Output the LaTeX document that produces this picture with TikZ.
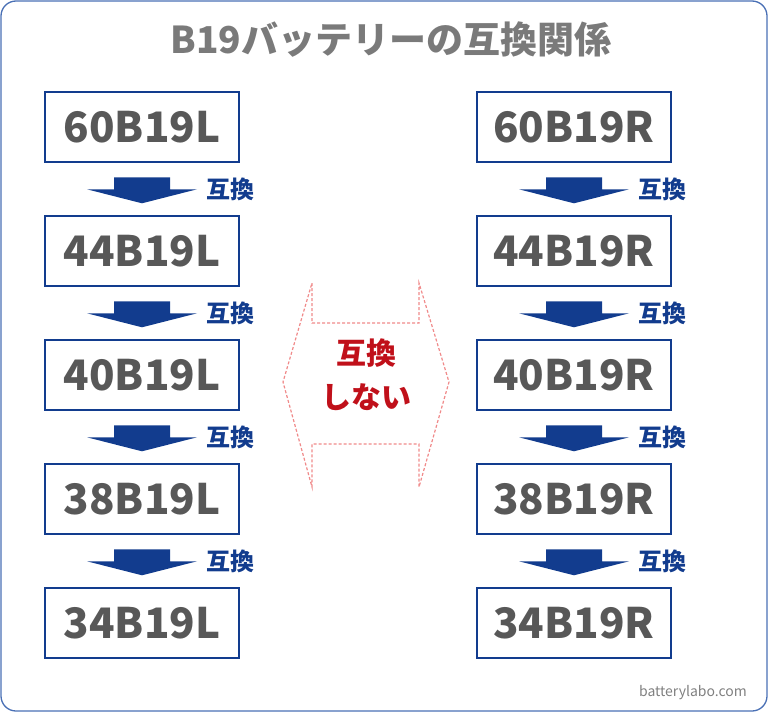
\documentclass[tikz,border=0pt]{standalone}
\usepackage{fontspec}
\setmainfont{Noto Sans CJK JP}
\usetikzlibrary{calc}
\definecolor{frameblue}{HTML}{4A70B5}
\definecolor{navy}{HTML}{123C8E}
\definecolor{boxtext}{HTML}{585858}
\definecolor{titlegray}{HTML}{7A7A7A}
\definecolor{darkred}{HTML}{C0101A}
\definecolor{lightred}{HTML}{F08A8A}
\tikzset{
  batbox/.style={draw=navy, line width=2.6pt, minimum width=194pt, minimum height=70pt, inner sep=0pt,
    text=boxtext, font=\fontsize{42}{48}\selectfont\bfseries},
  blockarrow/.style={fill=navy, draw=none},
  xlabel/.style={text=navy, font=\fontsize{24}{26}\selectfont\bfseries, inner sep=0pt},
}
\begin{document}
\begin{tikzpicture}[x=1pt,y=-1pt]
\useasboundingbox (0,0) rectangle (768,712);
\draw[frameblue, line width=1.3pt, rounded corners=15pt] (1,1) rectangle (767,711);
\node[text=titlegray, font=\fontsize{37}{42}\selectfont\bfseries, inner sep=0pt] (title) at (391,40) {B19バッテリーの互換関係};
% boxes
\foreach \i/\n/\y in {1/60/127,2/44/251,3/40/375,4/38/499,5/34/623}{
  \node[batbox] (L\i) at (142,\y) {\n B19L};
  \node[batbox] (R\i) at (574,\y) {\n B19R};
}
% block arrows
\foreach \s in {L,R}{
  \foreach \i in {1,2,3,4}{
    \path (\s\i.south) ++(0,14) coordinate (\s a\i);
    \fill[blockarrow] (\s a\i) ++(-28,0) -- ++(56,0) -- ++(0,12) -- ++(27,0) -- ++(-55,14) -- ++(-55,-14) -- ++(27,0) -- cycle;
    \node[xlabel] (\s x\i) at ($(\s a\i)+(88,12)$) {互換};
  }
}
% not-compatible double arrow
\coordinate (p1) at (312,283);
\coordinate (p2) at (312,323);
\coordinate (p3) at (419,323);
\coordinate (p4) at (419,283);
\coordinate (p5) at (449,382);
\coordinate (p6) at (419,487);
\coordinate (p7) at (419,444);
\coordinate (p8) at (312,444);
\coordinate (p9) at (312,487);
\coordinate (p10) at (283,382);
\draw[lightred, line width=1.2pt, dash pattern=on 3pt off 2pt] (p1) -- (p2) -- (p3) -- (p4) -- (p5) -- (p6) -- (p7) -- (p8) -- (p9) -- (p10) -- cycle;
\node[text=darkred, font=\fontsize{30}{44}\selectfont\bfseries, align=center, inner sep=0pt] (nc) at (366,375) {互換\\しない};
\node[text=gray, font=\fontsize{14}{16}\selectfont, inner sep=0pt] (wm) at (693,693) {batterylabo.com};
\end{tikzpicture}
\end{document}
